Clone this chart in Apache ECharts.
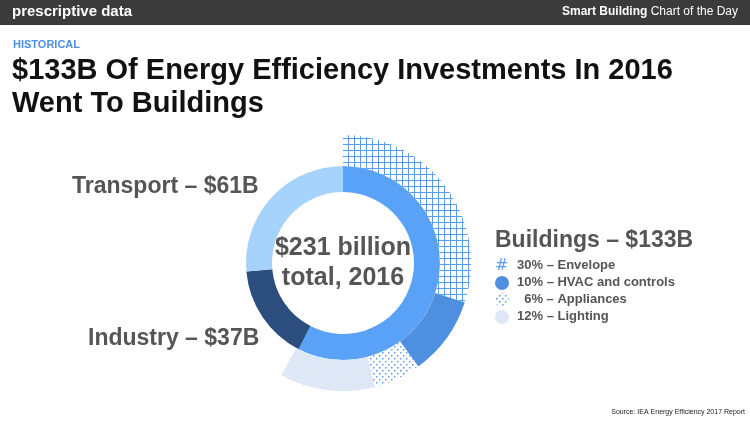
<!DOCTYPE html>
<html><head><meta charset="utf-8">
<script src="https://cdn.jsdelivr.net/npm/echarts@6/dist/echarts.min.js"></script>
<style>html,body{margin:0;padding:0;background:#fff}#c{width:750px;height:422px}</style>
</head><body><div id="c"></div>
<script>
var sectors = ['Buildings', 'Industry', 'Transport'];
var sectorValues = [133, 37, 61];
var buildingParts = ['Envelope', 'HVAC and controls', 'Appliances', 'Lighting'];
var buildingShares = [30, 10, 6, 12];

function pattern(kind) {
  var c = document.createElement('canvas');
  var ctx = c.getContext('2d');
  if (kind === 'grid') {
    c.width = c.height = 6;
    ctx.fillStyle = '#fff'; ctx.fillRect(0, 0, 6, 6);
    ctx.fillStyle = '#5b9cf0'; ctx.fillRect(0, 0, 6, 1); ctx.fillRect(0, 0, 1, 6);
  } else if (kind === 'dots') {
    c.width = c.height = 6;
    ctx.fillStyle = '#fff'; ctx.fillRect(0, 0, 6, 6);
    ctx.fillStyle = '#5b9cf0'; ctx.fillRect(1, 1, 1.5, 1.5); ctx.fillRect(4, 4, 1.5, 1.5);
  } else {
    c.width = c.height = 3;
    ctx.fillStyle = '#e6eefa'; ctx.fillRect(0, 0, 3, 3);
    ctx.fillStyle = '#cddcf3'; ctx.fillRect(0, 0, 1, 1); ctx.fillRect(1, 1, 1, 1); ctx.fillRect(2, 2, 1, 1);
  }
  return {image: c, repeat: 'repeat'};
}

var sectorColors = ['#5aa1f8', '#2b4e7e', '#a6d3fb'];
var partColors = [pattern('grid'), '#4f8fe0', pattern('dots'), pattern('hatch')];
var partsSum = buildingShares.reduce(function (a, b) { return a + b; }, 0);

var outerData = buildingParts.map(function (n, i) {
  return {name: n, value: buildingShares[i], itemStyle: {color: partColors[i]}};
});
outerData.push({name: 'rest', value: 100 - partsSum, itemStyle: {color: 'transparent'}});

var chart = echarts.init(document.getElementById('c'));
var C = [343, 263];
var FONT = 'Liberation Sans, Arial';
var txt = function (x, y, t, size, color, weight) {
  return {type: 'text', left: x, top: y, style: {text: t, fontSize: size, fill: color || '#555',
    fontWeight: weight || 'bold', fontFamily: FONT}};
};
var graphic = [
  {type: 'rect', shape: {x: 0, y: 0, width: 750, height: 25}, style: {fill: '#3b3b3b'}},
  txt(12, 4, 'prescriptive data', 15, '#fff', 'bold'),
  {type: 'text', right: 12, top: 6, style: {rich: {b: {fontWeight: 'bold', fill: '#fff', fontSize: 12, fontFamily: FONT}, n: {fill: '#fff', fontSize: 12, fontFamily: FONT}}, text: '{b|Smart Building} {n|Chart of the Day}'}},
  txt(13, 39, 'HISTORICAL', 11, '#4a90e2'),
  txt(12, 56, '$133B Of Energy Efficiency Investments In 2016', 29, '#111'),
  txt(12, 89, 'Went To Buildings', 29, '#111'),
  txt(72, 175, 'Transport – $61B', 23, '#555'),
  txt(88, 327, 'Industry – $37B', 23, '#555'),
  txt(495, 229, 'Buildings – $133B', 23, '#555'),
  {type: 'text', x: C[0], y: C[1], style: {text: '$231 billion\ntotal, 2016', textAlign: 'center', textVerticalAlign: 'middle', fontSize: 25, lineHeight: 30, fontWeight: 'bold', fill: '#555', fontFamily: FONT}}
];
var legendText = ['30% – Envelope', '10% – HVAC and controls', '  6% – Appliances', '12% – Lighting'];
buildingParts.forEach(function (n, i) {
  var y = 266 + i * 17;
  if (i === 0) {
    graphic.push({type: 'text', left: 495, top: y - 8, style: {text: '#', fontSize: 16, fill: '#5b9cf0', fontFamily: 'DejaVu Sans'}});
  } else {
    graphic.push({type: 'circle', shape: {cx: 502, cy: y, r: 7}, style: {fill: partColors[i]}});
  }
  graphic.push(txt(517, y - 7, legendText[i], 13, '#555'));
});
graphic.push({type: 'text', right: 5, top: 409, style: {text: 'Source: IEA Energy Efficiency 2017 Report', fontSize: 7, fill: '#222', fontFamily: FONT}});

chart.setOption({
  animation: false,
  graphic: graphic,
  series: [
    {type: 'pie', center: C, radius: [71, 97], startAngle: 90, clockwise: true, silent: true,
      label: {show: false}, labelLine: {show: false},
      data: sectors.map(function (n, i) { return {name: n, value: sectorValues[i], itemStyle: {color: sectorColors[i]}}; })},
    {type: 'pie', center: C, radius: [97, 128], startAngle: 90, clockwise: true, silent: true,
      label: {show: false}, labelLine: {show: false}, data: outerData}
  ]
});
</script></body></html>
